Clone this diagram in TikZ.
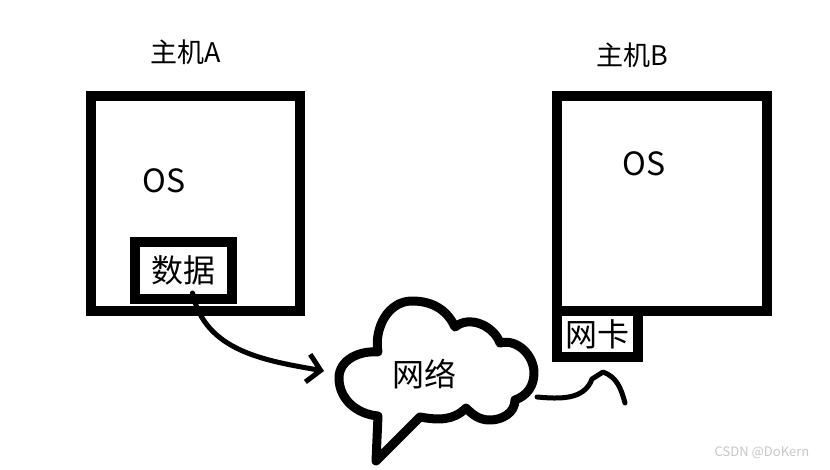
\documentclass[tikz,border=0pt]{standalone}
\usepackage{fontspec}
\setmainfont{Noto Sans CJK SC}
\usetikzlibrary{arrows.meta}

\begin{document}
\begin{tikzpicture}[x=1pt, y=-1pt, box/.style={rectangle, draw, line width=10pt, inner sep=0pt}, big/.style={font=\fontsize{32}{38}\selectfont}, title/.style={font=\fontsize{27}{32}\selectfont}, hand/.style={line width=5pt, line cap=round, line join=round}]
  \useasboundingbox (0,0) rectangle (830,469);
  \node[box, minimum width=209pt, minimum height=215pt] (hostA) at (195.5,203.5) {};
  \node[box, minimum width=210pt, minimum height=215pt] (hostB) at (662,203.5) {};
  \node[title] (titleA) at (186,52) {主机A};
  \node[title] (titleB) at (632,55) {主机B};
  \node[big] (osA) at (164,181) {OS};
  \node[big] (osB) at (644,164) {OS};
  \node[box, big, minimum width=97pt, minimum height=57pt] (data) at (183.5,270.5) {数据};
  \node[box, big, minimum width=81pt, minimum height=46pt] (nic) at (597.5,334) {网卡};
  \draw[line width=9pt, line join=round] (378,352) to[out=100,in=180] (412,301) to[out=0,in=115] (455,327)
    to[out=40,in=110] (500,343) to[out=15,in=90] (534,373) to[out=-90,in=20] (515,400)
    to[out=-90,in=0] (490,420) to[out=180,in=-45] (466,408) to[out=-135,in=-10] (420,417)
    -- (376,461) -- (378,416) to[out=175,in=-90] (339,378) to[out=90,in=175] (378,352) -- cycle;
  \node[big] (net) at (424,374) {网络};
  \coordinate (cloudW) at (324,371);
  \coordinate (cloudE) at (537,397);
  \coordinate (hook) at (592,379);
  \coordinate (bend) at (603,372);
  \coordinate (wing) at (625,403);
  \draw[hand, -{Straight Barb[length=13pt,width=28pt]}] ([xshift=9pt,yshift=11pt]data.south) to[out=-78,in=170] (cloudW);
  \draw[hand] (cloudE) to[out=-5,in=-110] (hook) -- (bend) to[out=-20,in=105] (wing);
  \node[text=gray!45, font=\fontsize{13}{15}\selectfont] (mark) at (762,453) {CSDN @DoKern};
\end{tikzpicture}
\end{document}
